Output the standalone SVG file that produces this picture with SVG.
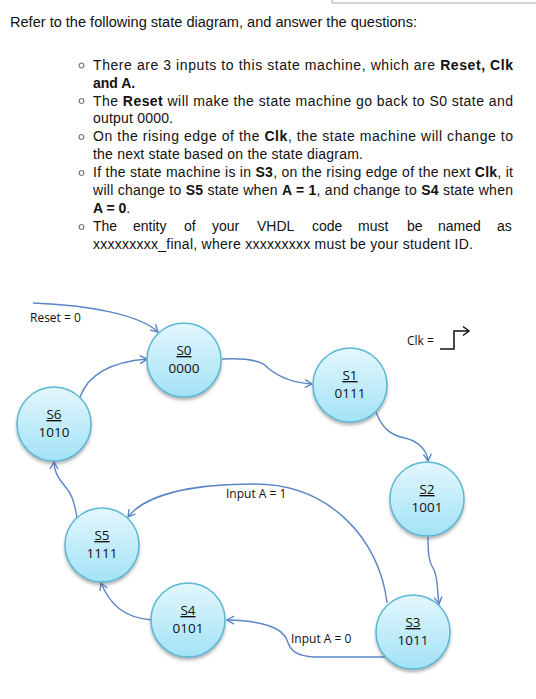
<svg xmlns="http://www.w3.org/2000/svg" width="536" height="699" viewBox="0 0 536 699">
<style>
.t{font-family:"Liberation Sans",Arial,sans-serif;font-size:14px;fill:#111}
.b{font-weight:bold}
.bul{fill:none;stroke:#555;stroke-width:1}
.node{fill:url(#g);stroke:#5ab8d4;stroke-width:1.5;filter:url(#sh)}
.nl{font-family:"Open Sans",sans-serif;font-size:13.5px;fill:#111;text-anchor:middle}
.u{text-decoration:underline}
.lbl{font-family:"Open Sans",sans-serif;font-size:12px;fill:#111}
.e{fill:none;stroke:#5a86c6;stroke-width:1.4;marker-end:url(#ar)}
</style>
<defs>
<linearGradient id="g" x1="0" y1="0" x2="0" y2="1">
<stop offset="0" stop-color="#e3f7fc"/>
<stop offset="1" stop-color="#a2e2f6"/>
</linearGradient>
<filter id="sh" x="-20%" y="-20%" width="140%" height="150%">
<feDropShadow dx="0" dy="2.5" stdDeviation="1.5" flood-color="#555" flood-opacity="0.45"/>
</filter>
<marker id="ar" markerUnits="userSpaceOnUse" markerWidth="12" markerHeight="12" viewBox="-9 -6 12 12" refX="0" refY="0" orient="auto">
<path d="M-7,-4 L0,0 L-7,4" fill="none" stroke="#5a86c6" stroke-width="1.4"/>
</marker>
<marker id="ark" markerUnits="userSpaceOnUse" markerWidth="12" markerHeight="12" viewBox="-9 -6 12 12" refX="0" refY="0" orient="auto">
<path d="M-6,-4.5 L0,0 L-6,4.5" fill="none" stroke="#111" stroke-width="1.5"/>
</marker>
</defs>
<rect width="536" height="699" fill="#fff"/>
<path d="M332,0 V3 H536" fill="none" stroke="#aaa" stroke-width="1"/>

<g id="intro">
<text class="t" x="10" y="27" textLength="407" lengthAdjust="spacingAndGlyphs">Refer to the following state diagram, and answer the questions:</text>
</g>

<g id="bullets">
<circle class="bul" cx="81.5" cy="65.5" r="2.5"/>
<circle class="bul" cx="81.5" cy="101" r="2.5"/>
<circle class="bul" cx="81.5" cy="137" r="2.5"/>
<circle class="bul" cx="81.5" cy="173" r="2.5"/>
<circle class="bul" cx="81.5" cy="227" r="2.5"/>
<text class="t" x="93" y="70" textLength="420" lengthAdjust="spacing">There are 3 inputs to this state machine, which are <tspan class="b">Reset, Clk</tspan></text>
<text class="t b" x="93" y="88">and A.</text>
<text class="t" x="93" y="105.5" textLength="420" lengthAdjust="spacing">The <tspan class="b">Reset</tspan> will make the state machine go back to S0 state and</text>
<text class="t" x="93" y="123" textLength="80" lengthAdjust="spacing">output 0000.</text>
<text class="t" x="93" y="141" textLength="420" lengthAdjust="spacing">On the rising edge of the <tspan class="b">Clk</tspan>, the state machine will change to</text>
<text class="t" x="93" y="159" textLength="270" lengthAdjust="spacing">the next state based on the state diagram.</text>
<text class="t" x="93" y="177" textLength="420" lengthAdjust="spacing">If the state machine is in <tspan class="b">S3</tspan>, on the rising edge of the next <tspan class="b">Clk</tspan>, it</text>
<text class="t" x="93" y="195" textLength="420" lengthAdjust="spacing">will change to <tspan class="b">S5</tspan> state when <tspan class="b">A = 1</tspan>, and change to <tspan class="b">S4</tspan> state when</text>
<text class="t" x="93" y="213"><tspan class="b">A = 0</tspan>.</text>
<text class="t" y="231"><tspan x="93">The</tspan><tspan x="133">entity</tspan><tspan x="184">of</tspan><tspan x="212">your</tspan><tspan x="257">VHDL</tspan><tspan x="312">code</tspan><tspan x="358">must</tspan><tspan x="407">be</tspan><tspan x="438">named</tspan><tspan x="497">as</tspan></text>
<text class="t" x="93" y="249" textLength="380" lengthAdjust="spacing">xxxxxxxxx_final, where xxxxxxxxx must be your student ID.</text>
</g>

<g id="connectors">
<path class="e" d="M33,303 C90,305 140,315 158,332"/>
<path class="e" d="M80,397 C88,375 110,362 147,359"/>
<path class="e" d="M222,359 C245,358 262,360 268,368 C280,378 295,383 312,384"/>
<path class="e" d="M376,412 C382,428 390,435 405,438 C418,441 427,450 428,461"/>
<path class="e" d="M428,537 C428,556 429,562 434,570 C438,578 437,590 439,604"/>
<path class="e" d="M387,603 C380,540 330,484 255,484 C190,484 145,495 128,517"/>
<path class="e" d="M385,657 L315,657 C295,656 290,650 287,640 C283,630 270,621 227,620"/>
<path class="e" d="M152,620 C125,618 110,605 101,583"/>
<path class="e" d="M77,518 C74,498 70,492 64,485 C57,477 54,470 54,462"/>
<text class="lbl" x="30" y="322">Reset = 0</text>
<text class="lbl" x="226" y="498">Input A = 1</text>
<text class="lbl" x="291" y="643">Input A = 0</text>
</g>

<g id="clk">
<text class="lbl" x="407" y="345">Clk =</text>
<path d="M440,349 H454 V331 H469" fill="none" stroke="#111" stroke-width="1.5" marker-end="url(#ark)"/>
</g>

<g id="S0"><circle class="node" cx="184" cy="360" r="37"/><text class="nl u" x="184" y="355">S0</text><text class="nl" x="184" y="372.5">0000</text></g>
<g id="S1"><circle class="node" cx="350" cy="385" r="37"/><text class="nl u" x="350" y="380">S1</text><text class="nl" x="350" y="397.5">0111</text></g>
<g id="S2"><circle class="node" cx="427" cy="499" r="37"/><text class="nl u" x="427" y="494">S2</text><text class="nl" x="427" y="511.5">1001</text></g>
<g id="S3"><circle class="node" cx="413" cy="632" r="37"/><text class="nl u" x="413" y="627">S3</text><text class="nl" x="413" y="644.5">1011</text></g>
<g id="S4"><circle class="node" cx="188" cy="620" r="37"/><text class="nl u" x="188" y="615">S4</text><text class="nl" x="188" y="632.5">0101</text></g>
<g id="S5"><circle class="node" cx="102" cy="545" r="37"/><text class="nl u" x="102" y="540">S5</text><text class="nl" x="102" y="557.5">1111</text></g>
<g id="S6"><circle class="node" cx="54" cy="424" r="37"/><text class="nl u" x="54" y="419">S6</text><text class="nl" x="54" y="436.5">1010</text></g>
</svg>
